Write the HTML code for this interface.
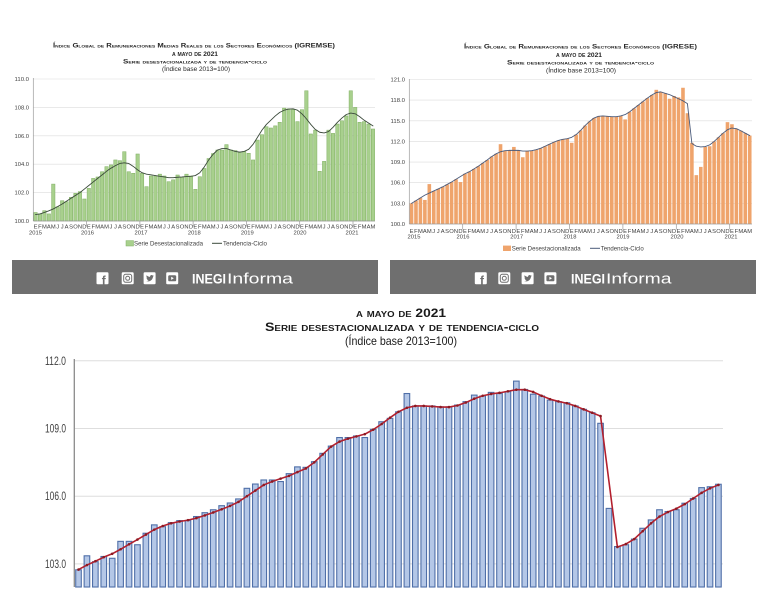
<!DOCTYPE html>
<html><head><meta charset="utf-8">
<style>
html,body{margin:0;padding:0;background:#fff;}
svg{display:block;}
text{font-family:"Liberation Sans",Arial,sans-serif;}
.sc{font-variant:small-caps;font-weight:bold;}
.t{fill:#262626;}
.ax{fill:#404040;}
</style></head><body>
<svg id="s" width="768" height="599" viewBox="0 0 768 599" xmlns="http://www.w3.org/2000/svg">
<rect width="768" height="599" fill="#fff"/>

<!-- ============ GREEN CHART ============ -->
<g class="t">
<text class="sc" x="194" y="47.7" font-size="6.3" text-anchor="middle" textLength="282" lengthAdjust="spacingAndGlyphs">Índice Global de Remuneraciones Medias Reales de los Sectores Económicos (IGREMSE)</text>
<text class="sc" x="195" y="56" font-size="6.5" text-anchor="middle" textLength="46" lengthAdjust="spacingAndGlyphs">a mayo de 2021</text>
<text class="sc" x="195" y="63.7" font-size="6.3" text-anchor="middle" textLength="144" lengthAdjust="spacingAndGlyphs">Serie desestacionalizada y de tendencia-ciclo</text>
<text x="196" y="71" font-size="6.3" text-anchor="middle" textLength="68" lengthAdjust="spacingAndGlyphs">(Índice base 2013=100)</text>
</g>
<g stroke="#dcdcdc" stroke-width="0.6">
<line x1="33.3" y1="79" x2="375" y2="79"/><line x1="33.3" y1="107.4" x2="375" y2="107.4"/>
<line x1="33.3" y1="135.8" x2="375" y2="135.8"/><line x1="33.3" y1="164.2" x2="375" y2="164.2"/>
<line x1="33.3" y1="192.6" x2="375" y2="192.6"/>
</g>
<g class="ax" font-size="5.6" text-anchor="end">
<text x="29" y="81" textLength="14.5" lengthAdjust="spacingAndGlyphs">110.0</text>
<text x="29" y="109.4" textLength="14.5" lengthAdjust="spacingAndGlyphs">108.0</text>
<text x="29" y="137.8" textLength="14.5" lengthAdjust="spacingAndGlyphs">106.0</text>
<text x="29" y="166.2" textLength="14.5" lengthAdjust="spacingAndGlyphs">104.0</text>
<text x="29" y="194.6" textLength="14.5" lengthAdjust="spacingAndGlyphs">102.0</text>
<text x="29" y="223" textLength="14.5" lengthAdjust="spacingAndGlyphs">100.0</text>
</g>
<g id="gG"></g>
<g stroke="#9a9a9a" stroke-width="0.7">
<line x1="33.3" y1="78" x2="33.3" y2="221"/><line x1="33.3" y1="221" x2="375" y2="221"/>
<line x1="86.6" y1="221" x2="86.6" y2="226.5"/><line x1="139.9" y1="221" x2="139.9" y2="226.5"/>
<line x1="193.1" y1="221" x2="193.1" y2="226.5"/><line x1="246.4" y1="221" x2="246.4" y2="226.5"/>
<line x1="299.7" y1="221" x2="299.7" y2="226.5"/><line x1="353" y1="221" x2="353" y2="226.5"/>
</g>
<g class="ax" font-size="5.8" text-anchor="middle">
<text transform="translate(35.52,228.5)" x="0 4.44 8.88 13.32 17.76 22.2 26.64 31.08 35.52 39.96 44.4 48.84">EFMAMJJASOND</text>
<text transform="translate(88.8,228.5)" x="0 4.44 8.88 13.32 17.76 22.2 26.64 31.08 35.52 39.96 44.4 48.84">EFMAMJJASOND</text>
<text transform="translate(142.08,228.5)" x="0 4.44 8.88 13.32 17.76 22.2 26.64 31.08 35.52 39.96 44.4 48.84">EFMAMJJASOND</text>
<text transform="translate(195.36,228.5)" x="0 4.44 8.88 13.32 17.76 22.2 26.64 31.08 35.52 39.96 44.4 48.84">EFMAMJJASOND</text>
<text transform="translate(248.64,228.5)" x="0 4.44 8.88 13.32 17.76 22.2 26.64 31.08 35.52 39.96 44.4 48.84">EFMAMJJASOND</text>
<text transform="translate(301.92,228.5)" x="0 4.44 8.88 13.32 17.76 22.2 26.64 31.08 35.52 39.96 44.4 48.84">EFMAMJJASOND</text>
<text transform="translate(355.2,228.5)" x="0 4.44 8.88 13.32 17.76">EFMAM</text>
<text x="35.5" y="234.5">2015</text><text x="87.5" y="234.5">2016</text><text x="141" y="234.5">2017</text>
<text x="194.3" y="234.5">2018</text><text x="247.3" y="234.5">2019</text><text x="300" y="234.5">2020</text><text x="352" y="234.5">2021</text>
</g>
<rect x="126" y="240.6" width="7.5" height="5.4" fill="#a8d08d" stroke="#7fae62" stroke-width="0.5"/>
<text class="ax" x="134" y="245.4" font-size="6.2" textLength="69" lengthAdjust="spacingAndGlyphs">Serie Desestacionalizada</text>
<line x1="212" y1="243.3" x2="222" y2="243.3" stroke="#3b4a3b" stroke-width="1"/>
<text class="ax" x="223" y="245.4" font-size="6.2" textLength="44" lengthAdjust="spacingAndGlyphs">Tendencia-Ciclo</text>

<!-- ============ ORANGE CHART ============ -->
<g class="t">
<text class="sc" x="580.5" y="48.7" font-size="6.3" text-anchor="middle" textLength="233" lengthAdjust="spacingAndGlyphs">Índice Global de Remuneraciones de los Sectores Económicos (IGRESE)</text>
<text class="sc" x="579" y="57" font-size="6.5" text-anchor="middle" textLength="46" lengthAdjust="spacingAndGlyphs">a  mayo de 2021</text>
<text class="sc" x="580.5" y="64.7" font-size="6.3" text-anchor="middle" textLength="147" lengthAdjust="spacingAndGlyphs">Serie desestacionalizada y de tendencia-ciclo</text>
<text x="581" y="72.7" font-size="6.3" text-anchor="middle" textLength="70" lengthAdjust="spacingAndGlyphs">(Índice base 2013=100)</text>
</g>
<g stroke="#dcdcdc" stroke-width="0.6">
<line x1="409.3" y1="79.5" x2="752" y2="79.5"/><line x1="409.3" y1="100.1" x2="752" y2="100.1"/>
<line x1="409.3" y1="120.8" x2="752" y2="120.8"/><line x1="409.3" y1="141.4" x2="752" y2="141.4"/>
<line x1="409.3" y1="162.1" x2="752" y2="162.1"/><line x1="409.3" y1="182.7" x2="752" y2="182.7"/>
<line x1="409.3" y1="203.4" x2="752" y2="203.4"/>
</g>
<g class="ax" font-size="5.6" text-anchor="end">
<text x="405" y="81.5" textLength="14.5" lengthAdjust="spacingAndGlyphs">121.0</text>
<text x="405" y="102.1" textLength="14.5" lengthAdjust="spacingAndGlyphs">118.0</text>
<text x="405" y="122.8" textLength="14.5" lengthAdjust="spacingAndGlyphs">115.0</text>
<text x="405" y="143.4" textLength="14.5" lengthAdjust="spacingAndGlyphs">112.0</text>
<text x="405" y="164.1" textLength="14.5" lengthAdjust="spacingAndGlyphs">109.0</text>
<text x="405" y="184.7" textLength="14.5" lengthAdjust="spacingAndGlyphs">106.0</text>
<text x="405" y="205.4" textLength="14.5" lengthAdjust="spacingAndGlyphs">103.0</text>
<text x="405" y="226" textLength="14.5" lengthAdjust="spacingAndGlyphs">100.0</text>
</g>
<g id="gO"></g>
<g stroke="#9a9a9a" stroke-width="0.7">
<line x1="409.3" y1="79" x2="409.3" y2="224"/><line x1="409.3" y1="224" x2="752" y2="224"/>
<line x1="462.7" y1="224" x2="462.7" y2="229.5"/><line x1="516.1" y1="224" x2="516.1" y2="229.5"/>
<line x1="569.5" y1="224" x2="569.5" y2="229.5"/><line x1="622.9" y1="224" x2="622.9" y2="229.5"/>
<line x1="676.3" y1="224" x2="676.3" y2="229.5"/><line x1="729.7" y1="224" x2="729.7" y2="229.5"/>
</g>
<g class="ax" font-size="5.8" text-anchor="middle">
<text transform="translate(411.5,233)" x="0 4.45 8.9 13.35 17.8 22.25 26.7 31.15 35.6 40.05 44.5 48.95">EFMAMJJASOND</text>
<text transform="translate(464.9,233)" x="0 4.45 8.9 13.35 17.8 22.25 26.7 31.15 35.6 40.05 44.5 48.95">EFMAMJJASOND</text>
<text transform="translate(518.3,233)" x="0 4.45 8.9 13.35 17.8 22.25 26.7 31.15 35.6 40.05 44.5 48.95">EFMAMJJASOND</text>
<text transform="translate(571.7,233)" x="0 4.45 8.9 13.35 17.8 22.25 26.7 31.15 35.6 40.05 44.5 48.95">EFMAMJJASOND</text>
<text transform="translate(625.1,233)" x="0 4.45 8.9 13.35 17.8 22.25 26.7 31.15 35.6 40.05 44.5 48.95">EFMAMJJASOND</text>
<text transform="translate(678.5,233)" x="0 4.45 8.9 13.35 17.8 22.25 26.7 31.15 35.6 40.05 44.5 48.95">EFMAMJJASOND</text>
<text transform="translate(731.9,233)" x="0 4.45 8.9 13.35 17.8">EFMAM</text>
<text x="414" y="238.5">2015</text><text x="463" y="238.5">2016</text><text x="516.7" y="238.5">2017</text>
<text x="570" y="238.5">2018</text><text x="623" y="238.5">2019</text><text x="677" y="238.5">2020</text><text x="731" y="238.5">2021</text>
</g>
<rect x="503" y="245.6" width="8" height="5.4" fill="#efa46c"/>
<text class="ax" x="511.7" y="250.4" font-size="6.2" textLength="69" lengthAdjust="spacingAndGlyphs">Serie Desestacionalizada</text>
<line x1="590" y1="248.3" x2="600" y2="248.3" stroke="#4a5a7a" stroke-width="1"/>
<text class="ax" x="600.7" y="250.4" font-size="6.2" textLength="43" lengthAdjust="spacingAndGlyphs">Tendencia-Ciclo</text>

<!-- ============ BANNERS ============ -->
<rect x="12" y="260" width="366" height="34" fill="#6f6f6f"/>
<rect x="390" y="260" width="366" height="34" fill="#6f6f6f"/>
<g transform="translate(96.5,272.3)">
  <rect width="12" height="12" rx="1.2" fill="#fff"/>
  <text x="7.2" y="12" font-size="12" font-weight="bold" fill="#6f6f6f" text-anchor="middle">f</text>
</g>
<g transform="translate(121.7,272.3)">
  <rect width="12" height="12" rx="1.2" fill="#fff"/>
  <rect x="2" y="2" width="8" height="8" rx="2" fill="none" stroke="#6f6f6f" stroke-width="1"/>
  <circle cx="6" cy="6" r="2" fill="none" stroke="#6f6f6f" stroke-width="1"/>
</g>
<g transform="translate(143.6,272.3)">
  <rect width="12" height="12" rx="1.2" fill="#fff"/>
  <path d="M2.3 8.6c2.6 1.2 6.4 0.3 7.2-4.4l1-0.9-1.1 0.2c-0.6-1.1-2.3-1.2-2.9 0.3-0.1 0.4 0 0.8 0 0.8C5 4.6 3.8 3.8 3 2.9c-0.5 1 0 2.1 0.6 2.5l-0.8-0.1c0.1 0.9 0.7 1.5 1.4 1.7H3.4c0.3 0.7 0.9 1.1 1.7 1.2-0.8 0.5-1.8 0.6-2.8 0.4z" fill="#6f6f6f"/>
</g>
<g transform="translate(166.2,272.3)">
  <rect width="12" height="12" rx="1.2" fill="#fff"/>
  <rect x="2" y="3" width="8" height="6" rx="1.3" fill="#6f6f6f"/>
  <path d="M5 4.4v3.2l2.6-1.6z" fill="#fff"/>
</g>
<text x="192" y="283.6" font-size="14" font-weight="bold" fill="#fff" textLength="34" lengthAdjust="spacingAndGlyphs">INEGI</text>
<text x="227" y="283.6" font-size="15" fill="#fff" textLength="66" lengthAdjust="spacingAndGlyphs">Informa</text>

<g transform="translate(474.8,272.3)">
  <rect width="12" height="12" rx="1.2" fill="#fff"/>
  <text x="7.2" y="12" font-size="12" font-weight="bold" fill="#6f6f6f" text-anchor="middle">f</text>
</g>
<g transform="translate(498.3,272.3)">
  <rect width="12" height="12" rx="1.2" fill="#fff"/>
  <rect x="2" y="2" width="8" height="8" rx="2" fill="none" stroke="#6f6f6f" stroke-width="1"/>
  <circle cx="6" cy="6" r="2" fill="none" stroke="#6f6f6f" stroke-width="1"/>
</g>
<g transform="translate(521.6,272.3)">
  <rect width="12" height="12" rx="1.2" fill="#fff"/>
  <path d="M2.3 8.6c2.6 1.2 6.4 0.3 7.2-4.4l1-0.9-1.1 0.2c-0.6-1.1-2.3-1.2-2.9 0.3-0.1 0.4 0 0.8 0 0.8C5 4.6 3.8 3.8 3 2.9c-0.5 1 0 2.1 0.6 2.5l-0.8-0.1c0.1 0.9 0.7 1.5 1.4 1.7H3.4c0.3 0.7 0.9 1.1 1.7 1.2-0.8 0.5-1.8 0.6-2.8 0.4z" fill="#6f6f6f"/>
</g>
<g transform="translate(544.4,272.3)">
  <rect width="12" height="12" rx="1.2" fill="#fff"/>
  <rect x="2" y="3" width="8" height="6" rx="1.3" fill="#6f6f6f"/>
  <path d="M5 4.4v3.2l2.6-1.6z" fill="#fff"/>
</g>
<text x="571" y="283.6" font-size="14" font-weight="bold" fill="#fff" textLength="34" lengthAdjust="spacingAndGlyphs">INEGI</text>
<text x="606" y="283.6" font-size="15" fill="#fff" textLength="65.5" lengthAdjust="spacingAndGlyphs">Informa</text>

<!-- ============ BOTTOM CHART ============ -->
<g fill="#1a1a1a">
<text class="sc" x="401" y="317" font-size="11.5" text-anchor="middle" textLength="90" lengthAdjust="spacingAndGlyphs">a mayo de 2021</text>
<text class="sc" x="402" y="331" font-size="11.5" text-anchor="middle" textLength="274" lengthAdjust="spacingAndGlyphs">Serie desestacionalizada y de tendencia-ciclo</text>
<text x="401" y="345" font-size="12" text-anchor="middle" textLength="112" lengthAdjust="spacingAndGlyphs">(Índice base 2013=100)</text>
</g>
<g stroke="#dedede" stroke-width="1">
<line x1="74.3" y1="360.8" x2="723" y2="360.8"/><line x1="74.3" y1="428.5" x2="723" y2="428.5"/>
<line x1="74.3" y1="496.2" x2="723" y2="496.2"/><line x1="74.3" y1="563.9" x2="723" y2="563.9"/>
</g>
<g fill="#404040" font-size="11.5" text-anchor="end">
<text x="66" y="364.8" textLength="21" lengthAdjust="spacingAndGlyphs">112.0</text>
<text x="66" y="432.5" textLength="21" lengthAdjust="spacingAndGlyphs">109.0</text>
<text x="66" y="500.2" textLength="21" lengthAdjust="spacingAndGlyphs">106.0</text>
<text x="66" y="567.9" textLength="21" lengthAdjust="spacingAndGlyphs">103.0</text>
</g>
<g id="gB"></g>
<line x1="74.3" y1="359" x2="74.3" y2="587" stroke="#8a8a8a" stroke-width="1.3"/>
</svg>
<script>
(function(){
var NS="http://www.w3.org/2000/svg";
function el(tag,a,p){var e=document.createElementNS(NS,tag);for(var k in a)e.setAttribute(k,a[k]);p.appendChild(e);return e;}
function chart(o){
  var g=document.getElementById(o.id);
  for(var i=0;i<o.bars.length;i++){
    var cx=o.x0+o.step*(i+0.5),y=o.y(o.bars[i]);
    el('rect',{x:(cx-o.bw/2).toFixed(2),y:y.toFixed(2),width:o.bw,height:(o.base-y).toFixed(2),fill:o.fill,stroke:o.stroke||'none','stroke-width':o.sw||0},g);
  }
  var pts=[];
  for(var j=0;j<o.trend.length;j++){pts.push((o.x0+o.step*(j+0.5)).toFixed(2)+','+o.y(o.trend[j]).toFixed(2));}
  el('polyline',{points:pts.join(' '),fill:'none',stroke:o.lc,'stroke-width':o.lw,'stroke-linejoin':'round','stroke-linecap':'round'},g);
  if(o.dots){for(var m=0;m<o.trend.length;m++){if(o.skip&&o.skip.indexOf(m)>=0)continue;el('circle',{cx:(o.x0+o.step*(m+0.5)).toFixed(2),cy:o.y(o.trend[m]).toFixed(2),r:1.3,fill:o.dots},g);}}
}
var gb=[100.6,100.5,100.73,100.5,102.6,101.0,101.43,101.36,101.67,101.95,102.07,101.55,102.3,103.0,103.1,103.47,103.83,103.95,104.3,104.25,104.88,103.47,103.36,104.72,103.36,102.42,103.17,103.17,103.3,103.17,102.77,102.9,103.24,103.07,103.3,103.17,102.23,103.12,103.7,104.4,104.75,105.0,105.0,105.38,105.0,104.96,104.84,104.9,104.77,104.3,105.7,106.08,106.64,106.55,106.7,106.95,107.95,107.9,107.84,107.0,107.84,109.17,106.13,106.4,103.5,104.2,106.4,106.17,106.83,107.06,107.4,109.17,108.0,106.95,107.0,106.83,106.48];
var gt=[100.45,100.5,100.6,100.72,100.85,101.02,101.2,101.4,101.6,101.8,102.0,102.25,102.5,102.75,103.0,103.25,103.5,103.72,103.9,104.05,104.1,104.05,103.85,103.6,103.4,103.3,103.25,103.2,103.15,103.1,103.05,103.05,103.08,103.1,103.13,103.15,103.2,103.4,103.8,104.3,104.7,105.0,105.1,105.1,105.0,104.9,104.85,104.9,105.05,105.4,105.9,106.4,106.8,107.1,107.4,107.65,107.8,107.88,107.9,107.8,107.55,107.2,106.8,106.45,106.25,106.2,106.3,106.6,106.95,107.25,107.5,107.6,107.55,107.35,107.1,106.9,106.7];
chart({id:'gG',bars:gb,trend:gt,x0:33.3,step:4.44,bw:3.4,base:221,y:function(v){return 221-(v-100)*14.2;},fill:'#a8d08d',stroke:'#7fae62',sw:0.5,lc:'#3b4a3b',lw:0.9});

var ot=[103.0,103.4,103.8,104.2,104.5,104.8,105.1,105.4,105.75,106.1,106.5,106.9,107.3,107.6,108.0,108.4,108.85,109.3,109.8,110.2,110.5,110.65,110.7,110.7,110.7,110.6,110.6,110.65,110.8,111.0,111.3,111.6,111.9,112.15,112.3,112.4,112.6,113.0,113.6,114.3,114.9,115.4,115.65,115.7,115.65,115.6,115.6,115.7,115.9,116.3,116.8,117.3,117.8,118.3,118.75,119.1,119.2,119.0,118.8,118.5,118.2,117.9,117.5,111.7,111.3,111.2,111.25,111.5,112.0,112.6,113.2,113.7,113.95,113.85,113.55,113.2,112.85];
var ob=ot.slice();
var ov={4:103.5,5:105.8,12:106.1,21:111.6,24:111.2,26:109.7,37:111.8,49:115.2,56:119.5,59:118.2,60:118.6,61:118.4,62:119.8,63:116.1,64:111.8,65:107.1,66:108.3,67:111.2,68:111.3,72:114.8,73:114.5};
for(var k in ov){ob[k-1]=ov[k];}
chart({id:'gO',bars:ob,trend:ot,x0:409.3,step:4.45,bw:3.6,base:224,y:function(v){return 224-(v-100)*6.881;},fill:'#efa46c',lc:'#4a5a7a',lw:0.9});

var bb=[102.74,103.36,103.1,103.33,103.25,104.0,104.0,103.85,104.36,104.73,104.65,104.83,104.92,104.92,105.1,105.27,105.4,105.58,105.7,105.88,106.35,106.54,106.72,106.72,106.65,107.0,107.3,107.28,107.53,107.9,108.22,108.6,108.6,108.67,108.6,108.96,109.3,109.45,109.74,110.55,110.0,110.0,110.0,109.96,109.96,110.04,110.19,110.48,110.44,110.6,110.55,110.63,111.1,110.73,110.52,110.44,110.26,110.19,110.14,110.0,109.85,109.7,109.23,105.46,103.77,103.85,104.1,104.58,104.95,105.4,105.32,105.4,105.69,105.9,106.38,106.42,106.53];
var bt=[102.75,102.95,103.12,103.3,103.45,103.65,103.87,104.08,104.3,104.52,104.68,104.8,104.88,104.94,105.03,105.15,105.28,105.42,105.57,105.75,106.0,106.25,106.5,106.65,106.78,106.9,107.07,107.23,107.5,107.85,108.2,108.42,108.55,108.65,108.75,108.95,109.2,109.48,109.74,109.92,110.0,110.0,109.98,109.95,109.95,110.02,110.15,110.32,110.45,110.53,110.58,110.65,110.72,110.72,110.62,110.45,110.3,110.2,110.12,110.0,109.85,109.7,109.55,106.65,103.75,103.88,104.1,104.45,104.8,105.1,105.3,105.45,105.65,105.9,106.15,106.35,106.5];
chart({id:'gB',bars:bb,trend:bt,x0:74.3,step:8.42,bw:5.6,base:587,y:function(v){return 586.5-(v-102)*22.57;},fill:'#b4c7e7',stroke:'#4f6fa8',sw:1.1,lc:'#b3202e',lw:1.6,dots:'#8b1a22',skip:[63]});
})();
</script>
</body></html>
